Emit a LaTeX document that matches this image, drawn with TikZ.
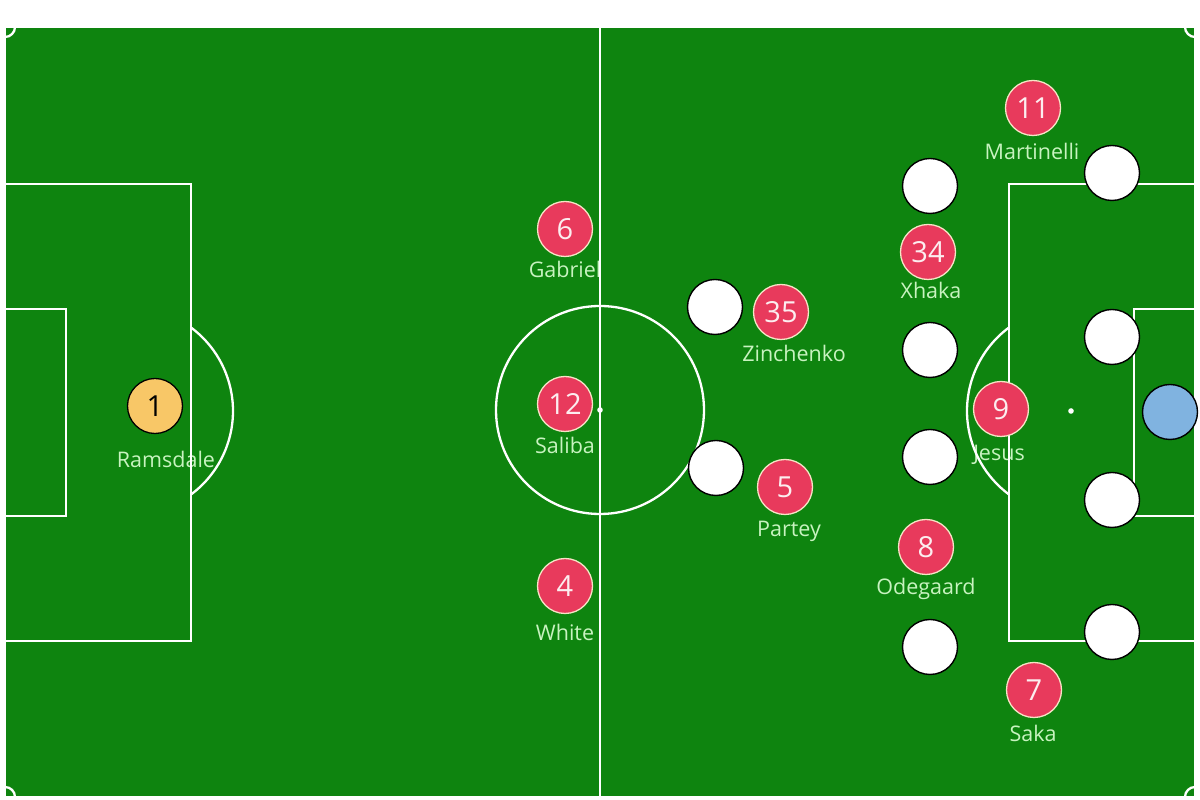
\documentclass[tikz,border=0pt]{standalone}
\usepackage{fontspec}
\setmainfont{Open Sans}
\usetikzlibrary{positioning}

\definecolor{pitchgreen}{HTML}{0E840F}
\definecolor{gunred}{HTML}{E83A5C}
\definecolor{rimcream}{HTML}{F6E4C6}
\definecolor{numpink}{HTML}{FCEDEF}
\definecolor{namegreen}{HTML}{C8F3C0}
\definecolor{keepyellow}{HTML}{F8C767}
\definecolor{oppblue}{HTML}{80B3E0}

\pgfdeclarelayer{back}
\pgfdeclarelayer{front}
\pgfsetlayers{back,main,front}

\tikzstyle{gunner} = [circle, minimum size=55pt, inner sep=0pt, fill=gunred, draw=rimcream, line width=1.3pt, text=numpink, font=\fontsize{29}{29}\selectfont]
\tikzstyle{keeper} = [gunner, fill=keepyellow, draw=black, text=black]
\tikzstyle{opponent} = [circle, minimum size=55pt, inner sep=0pt, fill=white, draw=black, line width=1.4pt]
\tikzstyle{oppkeeper} = [opponent, fill=oppblue]
\tikzstyle{playername} = [text=namegreen, font=\fontsize{21.5}{21.5}\selectfont]
\tikzstyle{pitchline} = [draw=white, line width=2.3pt]

\begin{document}
\begin{tikzpicture}[x=1pt, y=1pt, node distance=42pt]

\useasboundingbox (0,0) rectangle (1200,800);

% pitch
\begin{pgfonlayer}{back}
\fill[white] (0,0) rectangle (1200,800);
\fill[pitchgreen] (5,3) rectangle (1195,773);
\end{pgfonlayer}

\draw[pitchline] (5,3) rectangle (1195,773);
\draw[pitchline] (600,3) -- (600,773);
\draw[pitchline] (600,390) circle (104);
\fill[white] (600,390) circle (2.8);
% left end
\draw[pitchline] (5,159) rectangle (191,616);
\draw[pitchline] (5,284) rectangle (66,491);
\draw[pitchline] (129,389) ++(-53.4:104) arc[start angle=-53.4, end angle=53.4, radius=104];
% right end
\draw[pitchline] (1009,159) rectangle (1195,616);
\draw[pitchline] (1134,284) rectangle (1195,491);
\fill[white] (1071,389) circle (2.8);
\draw[pitchline] (1071,389) ++(126.6:104) arc[start angle=126.6, end angle=233.4, radius=104];
% corners
\draw[pitchline] (5,763) arc[start angle=-90, end angle=0, radius=10];
\draw[pitchline] (1185,773) arc[start angle=180, end angle=270, radius=10];
\draw[pitchline] (15,3) arc[start angle=0, end angle=90, radius=10];
\draw[pitchline] (1195,13) arc[start angle=90, end angle=180, radius=10];

% players
\begin{pgfonlayer}{front}
\node (n1) [keeper] at (155,394) {1};
\node (n6) [gunner] at (565,571) {6};
\node (n12) [gunner] at (565,396) {12};
\node (n4) [gunner] at (565,214) {4};
\node (n35) [gunner] at (781,488) {35};
\node (n5) [gunner] at (785,313) {5};
\node (n34) [gunner] at (928,548) {34};
\node (n8) [gunner] at (926,253) {8};
\node (n11) [gunner] at (1033,692) {11};
\node (n9) [gunner] at (1001,391) {9};
\node (n7) [gunner] at (1034,110) {7};

\node (o1) [opponent] at (715,493) {};
\node (o2) [opponent] at (716,332) {};
\node (o3) [opponent] at (930,614) {};
\node (o4) [opponent] at (930,450) {};
\node (o5) [opponent] at (930,343) {};
\node (o6) [opponent] at (930,153) {};
\node (o7) [opponent] at (1112,627) {};
\node (o8) [opponent] at (1112,463) {};
\node (o9) [opponent] at (1112,300) {};
\node (o10) [opponent] at (1112,168) {};
\node (gk) [oppkeeper] at (1170,388) {};
\end{pgfonlayer}

% names
\begin{pgfonlayer}{back}
\node (l1) [playername, below of=n1, xshift=11pt, yshift=-11pt] {Ramsdale};
\node (l6) [playername, below of=n6, yshift=2pt] {Gabriel};
\node (l12) [playername, below of=n12, yshift=1pt] {Saliba};
\node (l4) [playername, below of=n4, yshift=-4pt] {White};
\node (l35) [playername, below of=n35, xshift=13pt, yshift=1pt] {Zinchenko};
\node (l5) [playername, below of=n5, xshift=4pt, yshift=-2pt] {Partey};
\node (l34) [playername, below of=n34, xshift=3pt, yshift=4pt] {Xhaka};
\node (l8) [playername, below of=n8] {Odegaard};
\node (l11) [playername, below of=n11, xshift=-1pt, yshift=-1pt] {Martinelli};
\node (l9) [playername, below of=n9, xshift=-2pt, yshift=-4pt] {Jesus};
\node (l7) [playername, below of=n7, xshift=-1pt, yshift=-1pt] {Saka};
\end{pgfonlayer}

\end{tikzpicture}
\end{document}
